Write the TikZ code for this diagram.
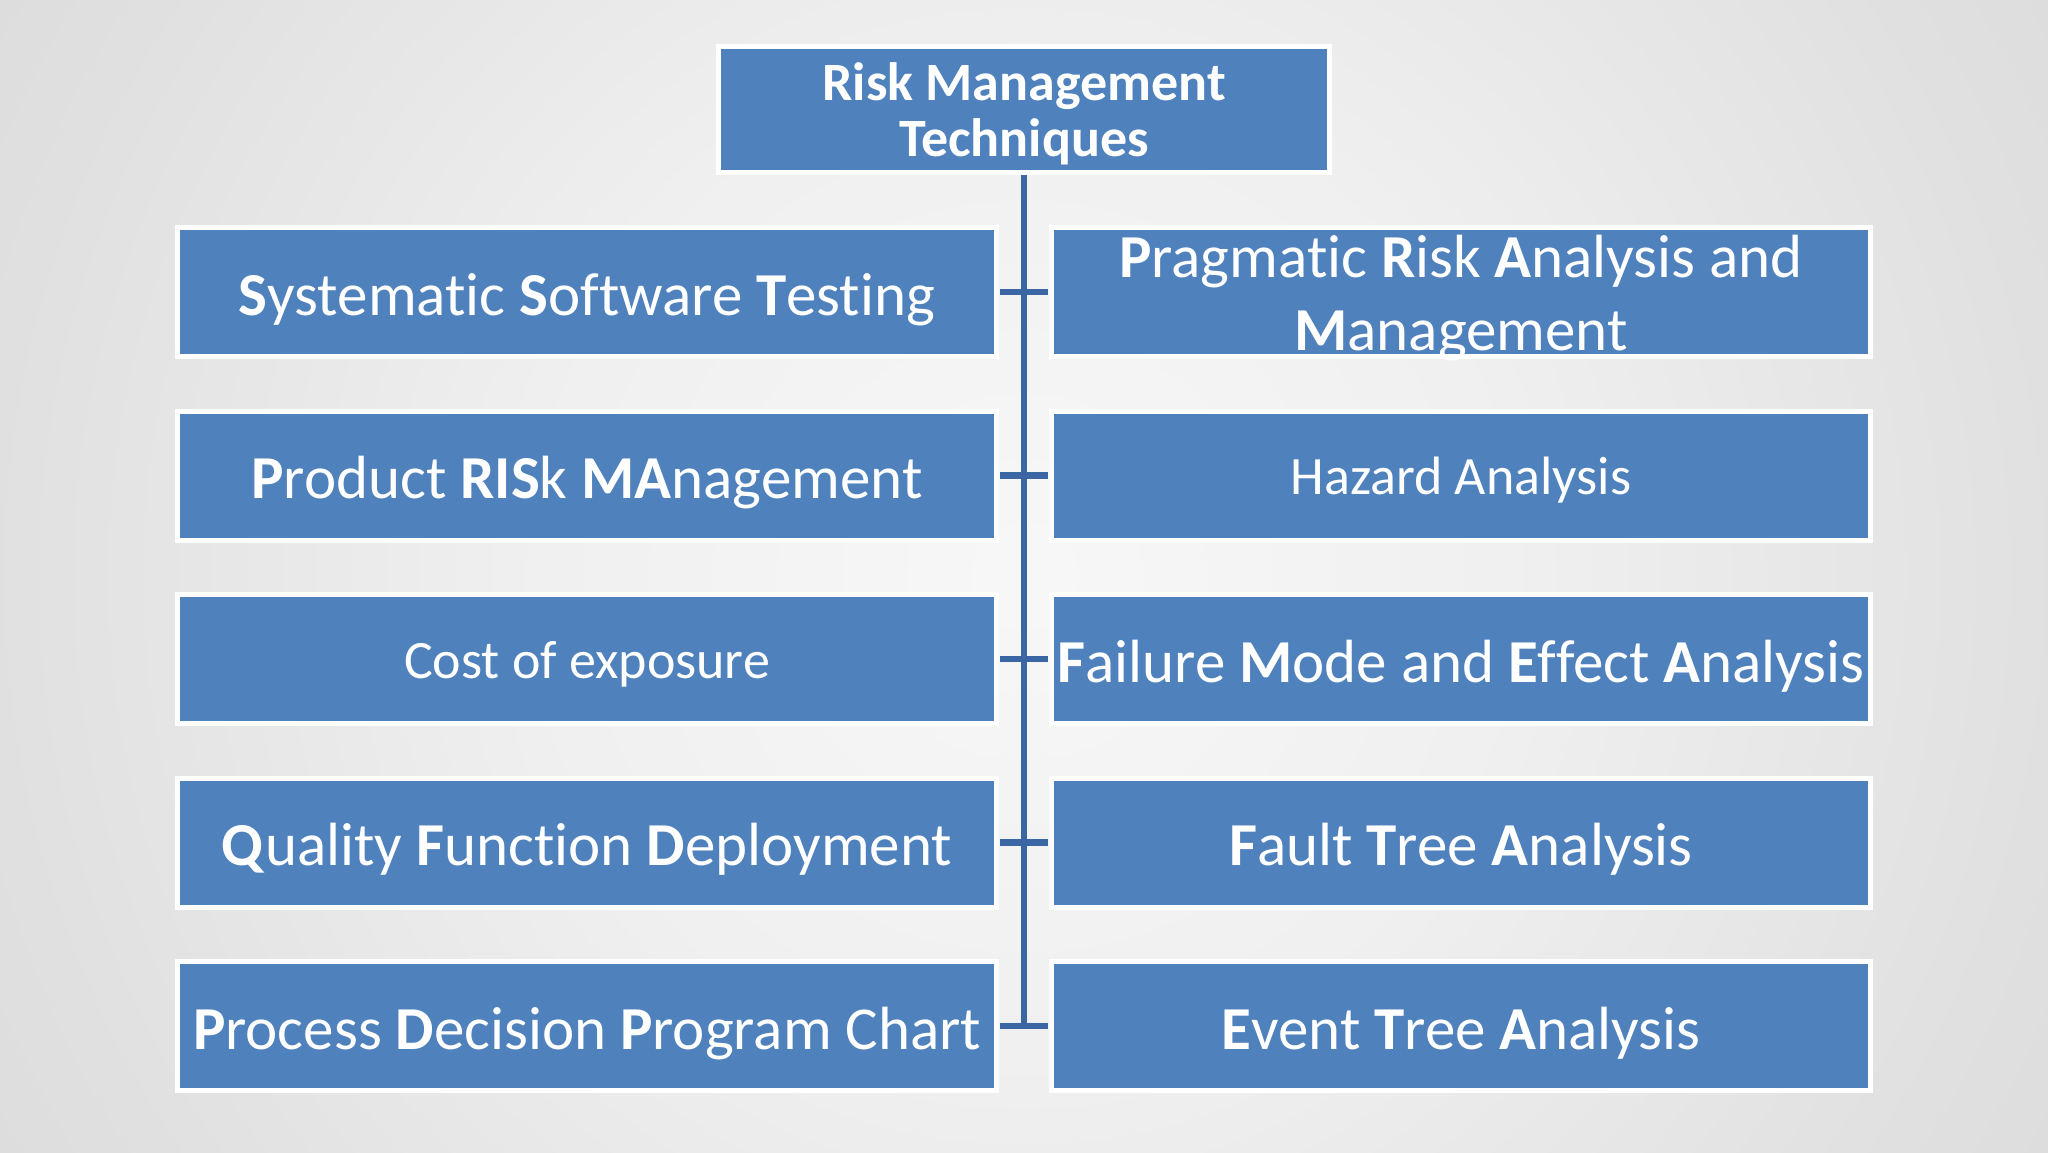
\documentclass[tikz,border=0pt]{standalone}
\usepackage{fontspec}
\setmainfont{Carlito}[Ligatures={NoCommon,NoRare}]
\usetikzlibrary{positioning}
\definecolor{boxblue}{HTML}{4F81BD}
\definecolor{linkblue}{HTML}{3A66A4}
\pgfdeclareradialshading{backdrop}{\pgfpoint{0bp}{0bp}}{rgb(0bp)=(0.97,0.97,0.97); rgb(12bp)=(0.94,0.94,0.94); rgb(25bp)=(0.88,0.88,0.88); rgb(50bp)=(0.79,0.79,0.79); rgb(60bp)=(0.76,0.76,0.76)}

\begin{document}
\begin{tikzpicture}[x=1pt, y=-1pt,
  box/.style={draw=white, line width=5pt, fill=boxblue, text=white,
    inner sep=0pt, minimum width=819pt, minimum height=129pt,
    align=center, text height=38pt, text depth=0pt,
    font=\fontsize{54}{65}\selectfont},
  bigbox/.style={box, text height=46pt, font=\fontsize{61}{73}\selectfont},
  link/.style={draw=linkblue, line width=6.5pt}]

  % background
  \begin{scope}
    \clip (0,0) rectangle (2048,1152);
    \shade[shading=backdrop] (0,-448) rectangle (2048,1600);
  \end{scope}
  \useasboundingbox (0,0) rectangle (2048,1152);

  \newcommand\Lx{587}
  \newcommand\Rx{1461}

  \node[box, minimum width=611pt, minimum height=126pt, text height=94pt,
    font=\bfseries\fontsize{54}{56}\selectfont] (root) at (1024,109.5)
    {Risk Management\\Techniques};

  % left column
  \node[bigbox] (sst) at (\Lx,292)
    {\textbf{S}ystematic \textbf{S}oftware \textbf{T}esting};
  \node[bigbox] (prm) at (\Lx,475.5)
    {\textbf{P}roduct \textbf{RIS}k \textbf{MA}nagement};
  \node[box] (coe) at (\Lx,659) {Cost of exposure};
  \node[bigbox] (qfd) at (\Lx,842.5)
    {\textbf{Q}uality \textbf{F}unction \textbf{D}eployment};
  \node[bigbox] (pdpc) at (\Lx,1026)
    {\textbf{P}rocess \textbf{D}ecision \textbf{P}rogram Chart};

  % right column
  \node[bigbox, text height=116pt] (pram) at (\Rx,292)
    {\textbf{P}ragmatic \textbf{R}isk \textbf{A}nalysis and\\\textbf{M}anagement};
  \node[box] (ha) at (\Rx,475.5) {Hazard Analysis};
  \node[bigbox] (fmea) at (\Rx,659)
    {\textbf{F}ailure \textbf{M}ode and \textbf{E}ffect \textbf{A}nalysis};
  \node[bigbox] (fta) at (\Rx,842.5)
    {\textbf{F}ault \textbf{T}ree \textbf{A}nalysis};
  \node[bigbox] (eta) at (\Rx,1026)
    {\textbf{E}vent \textbf{T}ree \textbf{A}nalysis};

  % spine and ticks
  \draw[link] (root.south) -- (root.south |- eta.west);
  \draw[link, shorten <=1pt, shorten >=1pt] (sst.east) -- (pram.west);
  \draw[link, shorten <=1pt, shorten >=1pt] (prm.east) -- (ha.west);
  \draw[link, shorten <=1pt, shorten >=1pt] (coe.east) -- (fmea.west);
  \draw[link, shorten <=1pt, shorten >=1pt] (qfd.east) -- (fta.west);
  \draw[link, shorten <=1pt, shorten >=1pt] (pdpc.east) -- (eta.west);

\end{tikzpicture}
\end{document}
